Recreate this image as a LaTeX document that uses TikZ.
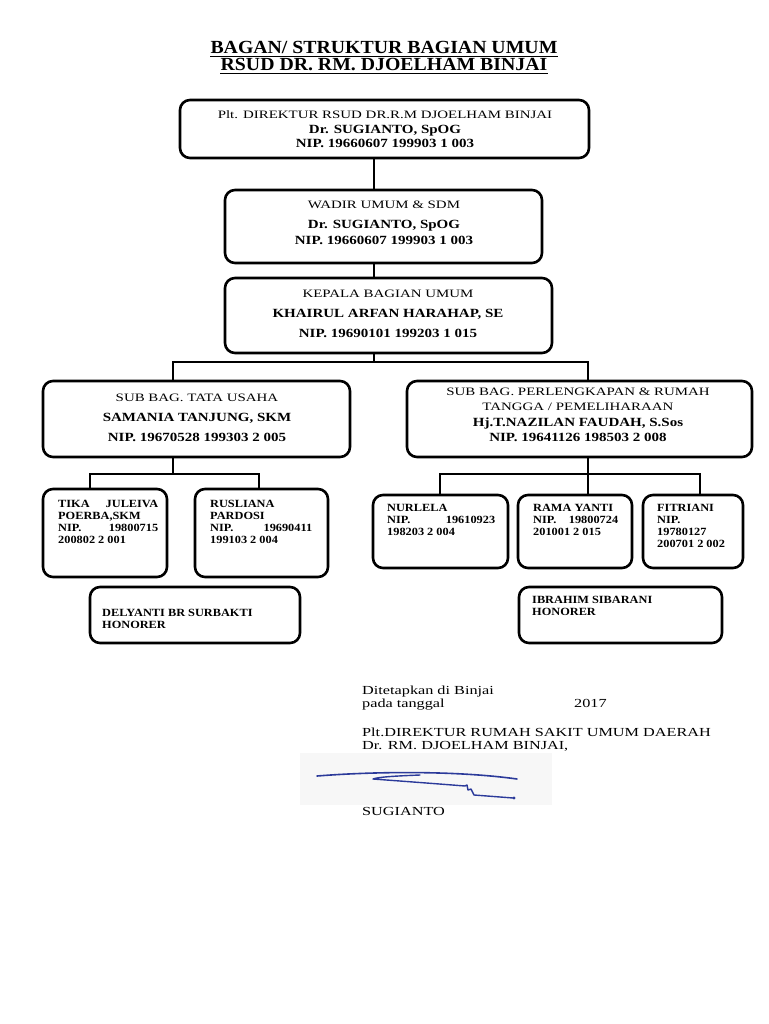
\documentclass[tikz,border=0pt]{standalone}
\usepackage{fontspec}
\setmainfont{Liberation Serif}
\newfontfamily\hdrfont[FakeStretch=1.32]{Liberation Serif}
\newfontfamily\nmfont[FakeStretch=1.2]{Liberation Serif}
\newfontfamily\stffont[FakeStretch=1.12]{Liberation Serif}
\newfontfamily\ttlfont[FakeStretch=1.07]{Liberation Serif}
\definecolor{ink}{HTML}{2B3A9A}
\newcommand{\jl}[3]{\hbox to #1{#2\hfill #3}}
\begin{document}
\begin{tikzpicture}[x=1pt,y=-1pt,
  box/.style={draw=black,line width=2.6pt,rounded corners=10pt,inner sep=0pt},
  conn/.style={draw=black,line width=2.4pt},
  hdr/.style={font=\hdrfont\fontsize{11.3}{13}\selectfont,anchor=base,inner sep=0pt},
  nm/.style={font=\nmfont\bfseries\fontsize{12.5}{14}\selectfont,anchor=base,inner sep=0pt},
  stf/.style={font=\stffont\bfseries\fontsize{11}{12}\selectfont,anchor=base west,inner sep=0pt,align=left},
  sig/.style={font=\hdrfont\fontsize{12.3}{13}\selectfont,anchor=base west,inner sep=0pt},
  ttl/.style={font=\ttlfont\bfseries\fontsize{18.5}{20}\selectfont,anchor=base,inner sep=0pt}]
\fill[white] (0,0) rectangle (768,1024);
\useasboundingbox (0,0) rectangle (768,1024);

% title
\node[ttl] (t1) at (384,54) {BAGAN/ STRUKTUR BAGIAN UMUM};
\node[ttl] (t2) at (384,71) {RSUD DR. RM. DJOELHAM BINJAI};
\draw[line width=1pt] ([yshift=-3pt]t1.base west) -- ([yshift=-3pt]t1.base east);
\draw[line width=1pt] ([yshift=-3pt]t2.base west) -- ([yshift=-3pt]t2.base east);

% main boxes
\node[box,minimum width=409pt,minimum height=58pt] (b1) at (384.5,129) {};
\node[box,minimum width=317pt,minimum height=73pt] (b2) at (383.5,226.5) {};
\node[box,minimum width=327pt,minimum height=75pt] (b3) at (388.5,315.5) {};
\node[box,minimum width=307pt,minimum height=76pt] (b4) at (196.5,419) {};
\node[box,minimum width=345pt,minimum height=76pt] (b5) at (579.5,419) {};

\node[hdr] (b1a) at (385,119) {Plt. DIREKTUR RSUD DR.R.M DJOELHAM BINJAI};
\node[nm] (b1b) at (385,134) {Dr. SUGIANTO, SpOG};
\node[nm] (b1c) at (385,147.5) {NIP. 19660607 199903 1 003};

\node[hdr] (b2a) at (384,209) {WADIR UMUM \& SDM};
\node[nm] (b2b) at (384,229) {Dr. SUGIANTO, SpOG};
\node[nm] (b2c) at (384,244) {NIP. 19660607 199903 1 003};

\node[hdr] (b3a) at (388,297) {KEPALA BAGIAN UMUM};
\node[nm] (b3b) at (388,317) {KHAIRUL ARFAN HARAHAP, SE};
\node[nm] (b3c) at (388,337) {NIP. 19690101 199203 1 015};

\node[hdr] (b4a) at (197,401) {SUB BAG. TATA USAHA};
\node[nm] (b4b) at (197,421) {SAMANIA TANJUNG, SKM};
\node[nm] (b4c) at (197,441) {NIP. 19670528 199303 2 005};

\node[hdr] (b5a) at (578,395) {SUB BAG. PERLENGKAPAN \& RUMAH};
\node[hdr] (b5b) at (578,410) {TANGGA / PEMELIHARAAN};
\node[nm] (b5c) at (578,426) {Hj.T.NAZILAN FAUDAH, S.Sos};
\node[nm] (b5d) at (578,441) {NIP. 19641126 198503 2 008};

% staff boxes
\node[box,minimum width=124pt,minimum height=88pt] (s1) at (105,533) {};
\node[box,minimum width=133pt,minimum height=88pt] (s2) at (261.5,533) {};
\node[box,minimum width=210pt,minimum height=56pt] (s3) at (195,615) {};
\node[box,minimum width=135pt,minimum height=73pt] (s4) at (440.5,531.5) {};
\node[box,minimum width=114pt,minimum height=73pt] (s5) at (575,531.5) {};
\node[box,minimum width=100pt,minimum height=73pt] (s6) at (693,531.5) {};
\node[box,minimum width=203pt,minimum height=56pt] (s7) at (620.5,615) {};

% (base anchor of a multi-line node = last line's baseline)
\node[stf] (s1t) at (58,543) {\jl{100pt}{TIKA}{JULEIVA}\\POERBA,SKM\\\jl{100pt}{NIP.}{19800715}\\200802 2 001};
\node[stf] (s2t) at (210,543) {RUSLIANA\\PARDOSI\\\jl{102pt}{NIP.}{19690411}\\199103 2 004};
\node[stf] (s3t) at (102,628) {DELYANTI BR SURBAKTI\\HONORER};
\node[stf] (s4t) at (387,535) {NURLELA\\\jl{108pt}{NIP.}{19610923}\\198203 2 004};
\node[stf] (s5t) at (533,535) {RAMA YANTI\\\jl{85pt}{NIP.}{19800724}\\201001 2 015};
\node[stf] (s6t) at (657,547) {FITRIANI\\NIP.\\19780127\\200701 2 002};
\node[stf] (s7t) at (532,615) {IBRAHIM SIBARANI\\HONORER};

% connectors
\coordinate (tr) at (374,362);
\coordinate (xL) at (173,362);
\coordinate (xR) at (588,362);
\draw[conn] (b1.south -| tr) -- (b2.north -| tr);
\draw[conn] (b2.south -| tr) -- (b3.north -| tr);
\draw[conn] (b3.south -| tr) -- (tr);
\draw[conn] (b4.north -| xL) -- (xL) -- (xR) -- (b5.north -| xR);

\coordinate (k4) at (173,474);
\coordinate (k4a) at (90,474);
\coordinate (k4b) at (259,474);
\draw[conn] (b4.south -| k4) -- (k4);
\draw[conn] (s1.north -| k4a) -- (k4a) -- (k4b) -- (s2.north -| k4b);

\coordinate (k5) at (588,474);
\coordinate (k5a) at (440,474);
\coordinate (k5b) at (700,474);
\draw[conn] (b5.south -| k5) -- (k5) -- (s5.north -| k5);
\draw[conn] (s4.north -| k5a) -- (k5a) -- (k5b) -- (s6.north -| k5b);

% signature block
\node[sig] (g1) at (362,694) {Ditetapkan di Binjai};
\node[sig] (g2) at (362,707) {pada tanggal};
\node[sig] (g3) at (574,707) {2017};
\node[sig] (g4) at (362,736) {Plt.DIREKTUR RUMAH SAKIT UMUM DAERAH};
\node[sig] (g5) at (362,749) {Dr. RM. DJOELHAM BINJAI,};
\node[sig] (g6) at (362,815) {SUGIANTO};

\fill[black!3] (300,753) rectangle (552,805);
\draw[ink,line width=1.6pt,line cap=round] (317,776) .. controls (380,771) and (460,771) .. (517,779);
\draw[ink,line width=1.4pt,line cap=round,line join=round] (420,775) .. controls (395,776) and (378,777) .. (373,779) .. controls (400,781) and (440,784) .. (465,786) -- (467,785) -- (468,790) -- (471,789) -- (474,795) -- (513,798);
\fill[ink] (514,798) circle (1.6pt);
\end{tikzpicture}
\end{document}
